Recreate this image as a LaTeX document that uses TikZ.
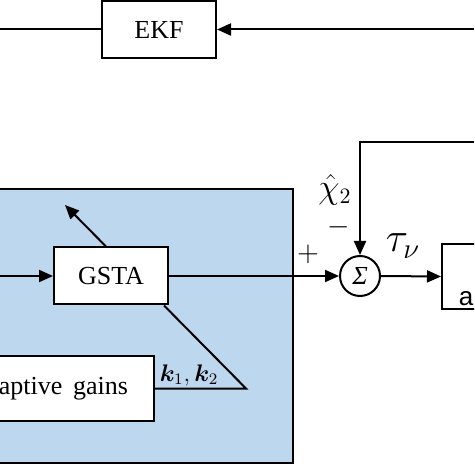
\documentclass[tikz,border=0pt]{standalone}
\usepackage{amsmath}
\usepackage{bm}
\usepackage{fontspec}
\setmainfont{Liberation Serif}
\setsansfont{Liberation Sans}
\usepackage{tikz}
\usetikzlibrary{positioning, arrows.meta}
\definecolor{panel}{RGB}{189,215,238}

\begin{document}
\begin{tikzpicture}[x=0.5pt, y=-0.5pt, line width=1pt,
  >={Triangle[length=7pt,width=6pt]},
  block/.style={draw, fill=white, minimum height=28.5pt, inner sep=0pt},
  sign/.style={font=\fontsize{15}{17}\selectfont, inner sep=1pt},
  font=\fontsize{13}{15}\selectfont]
\useasboundingbox (0,0) rectangle (474,474);
\clip (0,0) rectangle (474,474);

% controller panel
\fill[panel] (-10,189) rectangle (293,463);
\draw (-10,189) rectangle (293,463);

\node[block, minimum width=57pt] (EKF) at (159,29.5) {EKF};
\node[block, minimum width=57pt] (G) at (111,276) {GSTA};
\node[block, minimum width=106.5pt, minimum height=32.5pt] (A) at (47.5,388.5) {Adaptive\, gains};
\node[draw, circle, fill=white, minimum size=20pt, inner sep=0pt] (S) at (360,276) {\textit{Σ}};
\node[block, minimum width=48pt, minimum height=32.5pt] (P) at (490,276.5) {};
\node[font=\fontsize{13}{15}\sffamily] at (466,299) {a};

\coordinate (yin) at (474,29.5);
\coordinate (yout) at (0,29.5);
\coordinate (u) at (-5,276);
\coordinate (tip) at (65,205);
\coordinate (fb) at (474,142);
\coordinate (k) at (246,388.5);

\draw[->] (yin) -- (EKF.east);
\draw (EKF.west) -- (yout);

\draw[->] (u) -- (G.west);
\draw[->] ([xshift=-2.5pt]G.north) -- (tip);
\draw[->] (G.east) -- (S.west);
\draw[->] (fb) -| (S.north);
\draw[->] (S.east) -- (P.west);
\draw (A.east) -- (k) -- ([xshift=-2.5pt]G.south east);

% labels
\node[sign] (plus) at (308,254) {$+$};
\node[sign] (minus) at (339,227) {$-$};
\node[font=\fontsize{16}{18}\selectfont, inner sep=1pt] (xh) at (335,190) {$\hat{\chi}_2$};
\node[font=\fontsize{22}{24}\selectfont] (tau) at (403,246) {$\tau_{\nu}$};
\node[font=\fontsize{12}{14}\selectfont, inner sep=1pt] (gain) at (189,375) {$\bm{k}_1,\bm{k}_2$};
\end{tikzpicture}
\end{document}
